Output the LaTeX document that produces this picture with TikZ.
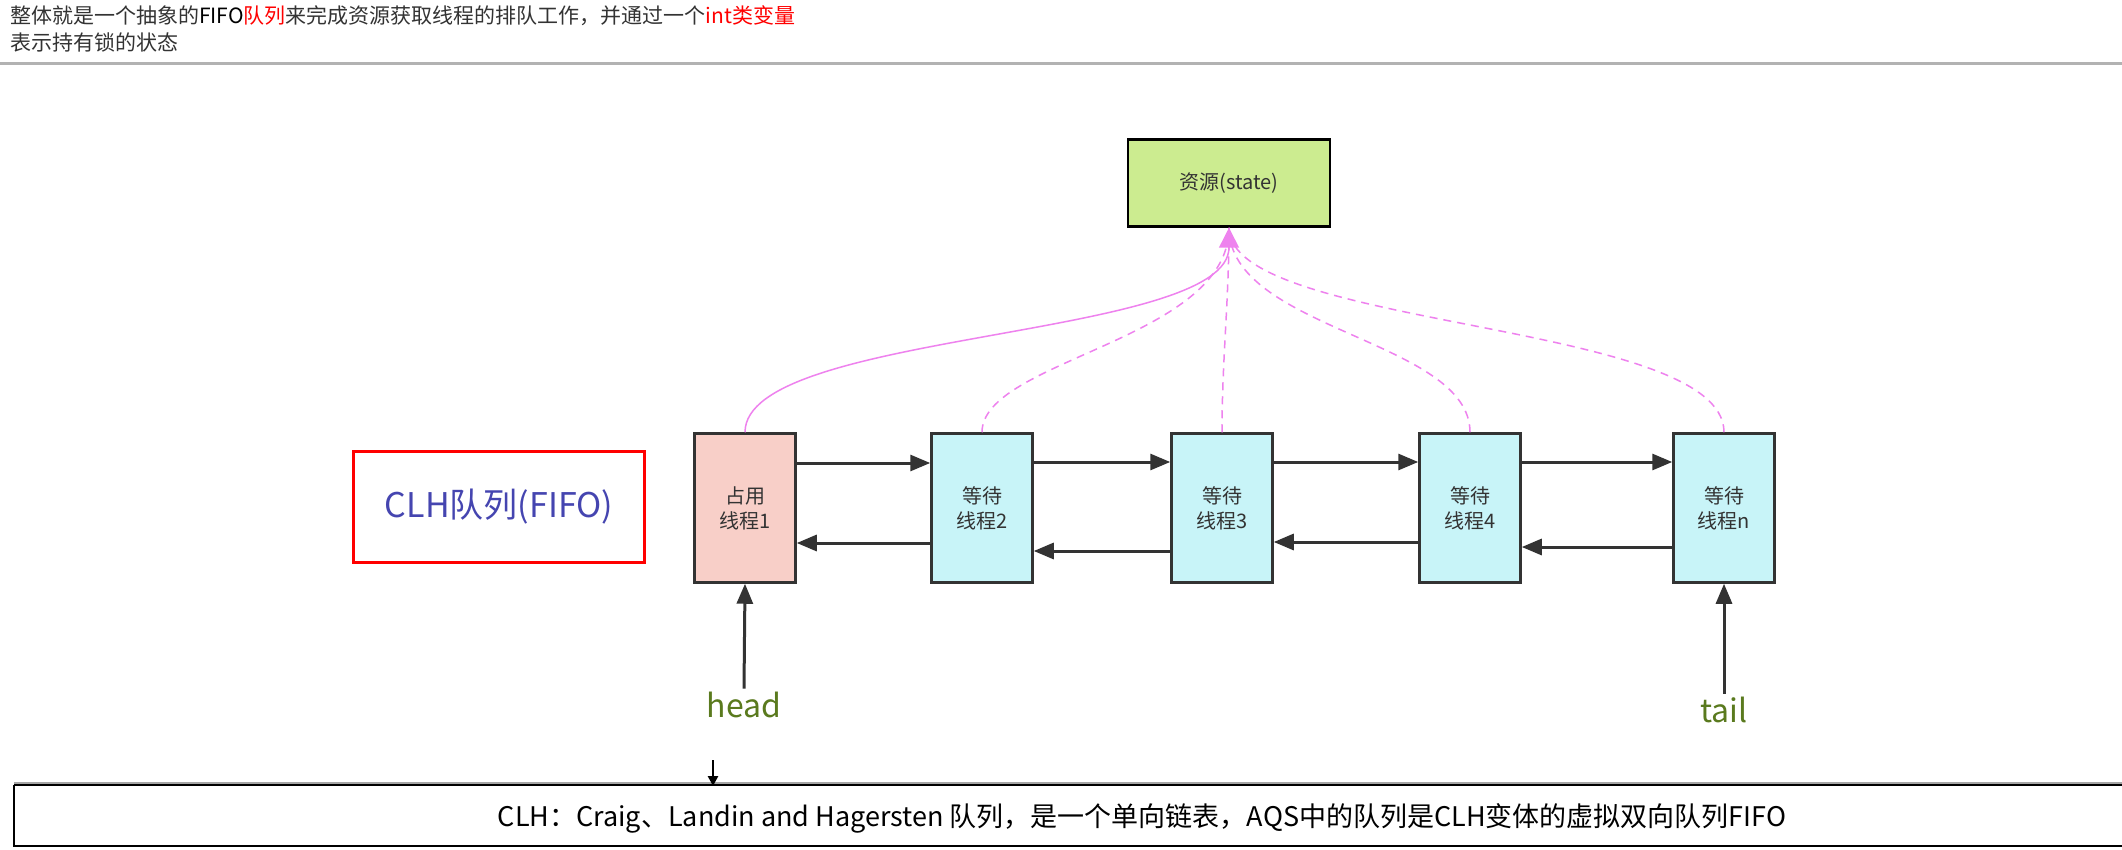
\documentclass[tikz,border=0pt]{standalone}
\usepackage{fontspec}
\setmainfont{Noto Sans CJK SC}
\usetikzlibrary{arrows.meta}
\definecolor{pinkf}{HTML}{F8CFC8}
\definecolor{cyanf}{HTML}{C8F4F8}
\definecolor{greenf}{HTML}{CCEC90}
\definecolor{vio}{HTML}{EE82EE}
\definecolor{olive}{HTML}{5A7A1E}
\definecolor{clhblue}{HTML}{4545B0}
\definecolor{dk}{HTML}{333333}
\begin{document}
\begin{tikzpicture}[x=1pt,y=-1pt,
  th/.style={draw=dk,line width=2.5pt,minimum width=101pt,minimum height=149pt,align=center,font=\fontsize{20}{25}\selectfont,text=dk,inner sep=0pt},
  ar/.style={draw=dk,line width=3pt,-{Triangle[length=20pt,width=16pt]}},
  cv/.style={draw=vio,line width=1.5pt},
  cvd/.style={cv,dash pattern=on 8pt off 6pt}]
\useasboundingbox (0,0) rectangle (2122,850);
\fill[white] (0,0) rectangle (2122,850);
\node[anchor=west,inner sep=0pt,font=\fontsize{21}{24}\selectfont,text=dk] (h1) at (10,16) {整体就是一个抽象的\textcolor{black}{FIFO}\textcolor{red}{队列}来完成资源获取线程的排队工作，并通过一个\textcolor{red}{int类变量}};
\node[anchor=west,inner sep=0pt,font=\fontsize{21}{24}\selectfont,text=dk] (h2) at (10,42) {表示持有锁的状态};
\draw[gray!60,line width=3pt] (0,64) -- (2122,64);
\node[draw=black,line width=2.5pt,fill=greenf,minimum width=202pt,minimum height=87pt,font=\fontsize{20}{24}\selectfont,text=dk] (r) at (1229,183) {资源(state)};
\node[th,fill=pinkf] (b1) at (745,508) {占用\\线程1};
\node[th,fill=cyanf] (b2) at (982,508) {等待\\线程2};
\node[th,fill=cyanf] (b3) at (1222,508) {等待\\线程3};
\node[th,fill=cyanf] (b4) at (1470,508) {等待\\线程4};
\node[th,fill=cyanf] (b5) at (1724,508) {等待\\线程n};
\draw[ar] (b1.east|-0,463) -- (b2.west|-0,463);
\draw[ar] (b2.east|-0,462) -- (b3.west|-0,462);
\draw[ar] (b3.east|-0,462) -- (b4.west|-0,462);
\draw[ar] (b4.east|-0,462) -- (b5.west|-0,462);
\draw[ar] (b2.west|-0,543) -- (b1.east|-0,543);
\draw[ar] (b3.west|-0,551) -- (b2.east|-0,551);
\draw[ar] (b4.west|-0,542) -- (b3.east|-0,542);
\draw[ar] (b5.west|-0,547) -- (b4.east|-0,547);
\draw[cv,-{Triangle[length=20pt,width=20pt]}] (b1.north) .. controls (745,330) and (1229,340) .. (r.south);
\draw[cvd] (b2.north) .. controls (982,360) and (1229,340) .. (r.south);
\draw[cvd] (b3.north) .. controls (1222,360) and (1229,300) .. (r.south);
\draw[cvd] (b4.north) .. controls (1470,340) and (1229,330) .. (r.south);
\draw[cvd] (b5.north) .. controls (1724,320) and (1229,330) .. (r.south);
\node[draw=red,line width=2.5pt,minimum width=291pt,minimum height=111pt,text=clhblue,font=\fontsize{34}{40}\selectfont] (clh) at (499,507) {CLH队列(FIFO)};
\node[text=olive,font=\fontsize{32}{38}\selectfont] (hd) at (744,705) {head};
\node[text=olive,font=\fontsize{32}{38}\selectfont] (tl) at (1724,710) {tail};
\draw[ar] (hd.north) -- (b1.south);
\draw[ar] (tl.north) -- (b5.south);
\draw[gray!70,line width=3pt] (14,783) -- (2122,783);
\draw[black,line width=1.5pt] (14,785) -- (2130,785) (14,785) -- (14,846) -- (2130,846);
\node[font=\fontsize{27}{32}\selectfont,inner sep=0pt] (ft) at (1142,818) {CLH：Craig、Landin and Hagersten 队列，是一个单向链表，AQS中的队列是CLH变体的虚拟双向队列FIFO};
\coordinate (dt) at (713,760);
\coordinate (db) at (713,786);
\draw[black,line width=2.5pt,-{Triangle[length=10pt,width=10pt]}] (dt) -- (db);
\end{tikzpicture}
\end{document}
